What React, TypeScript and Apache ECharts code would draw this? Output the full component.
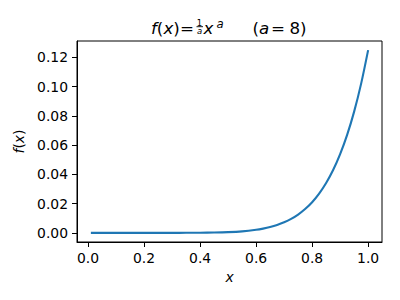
import React, { useEffect, useRef } from "react";
import * as echarts from "echarts";

const xValues = [0.01, 0.05, 0.1, 0.15, 0.2, 0.25, 0.3, 0.35, 0.4, 0.45, 0.5, 0.55, 0.6, 0.625, 0.65, 0.675, 0.7, 0.725, 0.75, 0.775, 0.8, 0.825, 0.85, 0.875, 0.9, 0.925, 0.95, 0.975, 1.0];
const yValues = [0, 0, 0, 0, 0, 0.000002, 0.0000082, 0.0000281, 0.0000819, 0.00021, 0.000488, 0.001047, 0.0021, 0.00291, 0.00398, 0.00539, 0.00721, 0.00954, 0.01251, 0.01627, 0.02097, 0.02683, 0.03406, 0.04295, 0.05381, 0.067, 0.08293, 0.10208, 0.125];
const xTicks = [0, 0.2, 0.4, 0.6, 0.8, 1.0];
const yTicks = [0, 0.02, 0.04, 0.06, 0.08, 0.1, 0.12];

const FONT = "DejaVu Sans";

export default function App() {
  const ref = useRef<HTMLDivElement>(null);
  useEffect(() => {
    if (!ref.current) return;
    const chart = echarts.init(ref.current, undefined, { renderer: "svg" });
    const titleSize = 16.7;
    const smallSize = 11.7;
    const fracSize = 8.5;
    const norm = (text: string, x: number, y: number, size = titleSize, italic = false, lh?: number) => ({
      type: "text",
      x,
      y,
      style: {
        text,
        fontFamily: FONT,
        fontStyle: italic ? "italic" : "normal",
        fontSize: size,
        lineHeight: lh,
        fill: "#000",
        align: "left",
        verticalAlign: "middle",
      },
    });
    chart.setOption({
      animation: false,
      backgroundColor: "#fff",
      grid: { left: 77, top: 41, right: 18, bottom: 58, show: true, borderColor: "#000", borderWidth: 1, backgroundColor: "transparent" },
      xAxis: {
        type: "value",
        min: -0.0395,
        max: 1.0495,
        splitLine: { show: false },
        axisLine: { show: true, onZero: false, lineStyle: { color: "#000", width: 1 } },
        axisTick: { show: true, customValues: xTicks, length: 5, lineStyle: { color: "#000", width: 1 } },
        axisLabel: { customValues: xTicks, margin: 9, color: "#000", fontFamily: FONT, fontSize: 13.9, formatter: (v: number) => v.toFixed(1) },
        name: "x",
        nameLocation: "middle",
        nameGap: 27,
        nameTextStyle: { fontFamily: FONT, fontStyle: "italic", fontSize: 13.9, color: "#000" },
      },
      yAxis: {
        type: "value",
        min: -0.00625,
        max: 0.13125,
        splitLine: { show: false },
        axisLine: { show: true, onZero: false, lineStyle: { color: "#000", width: 1 } },
        axisTick: { show: true, customValues: yTicks, length: 5, lineStyle: { color: "#000", width: 1 } },
        axisLabel: { customValues: yTicks, margin: 9, color: "#000", fontFamily: FONT, fontSize: 13.9, formatter: (v: number) => v.toFixed(2) },
        name: "{i|f}{n|(}{i|x}{n|)}",
        nameLocation: "middle",
        nameGap: 47,
        nameRotate: 90,
        nameTextStyle: {
          color: "#000",
          rich: {
            i: { fontFamily: FONT, fontStyle: "italic", fontSize: 13.9, color: "#000" },
            n: { fontFamily: FONT, fontSize: 13.9, color: "#000" },
          },
        },
      },
      graphic: [
        {
          type: "text",
          x: 151,
          y: 28,
          style: {
            text: "{i|f}{n|(}{i|x}{n|)}",
            verticalAlign: "middle",
            align: "left",
            rich: {
              i: { fontFamily: FONT, fontStyle: "italic", fontSize: titleSize, fill: "#000" },
              n: { fontFamily: FONT, fontSize: titleSize, fill: "#000" },
            },
          },
        },
        norm("=", 180, 28),
        {
          type: "text",
          x: 199.5,
          y: 26.9,
          style: {
            text: "{n|1}\n{i|a}",
            align: "center",
            verticalAlign: "middle",
            rich: {
              n: { fontFamily: FONT, fontSize: fracSize, lineHeight: 8.6, fill: "#000", align: "center" },
              i: { fontFamily: FONT, fontStyle: "italic", fontSize: fracSize, lineHeight: 8.6, fill: "#000", align: "center" },
            },
          },
        },
        { type: "line", shape: { x1: 196.5, y1: 26.7, x2: 203, y2: 26.7 }, style: { stroke: "#000", lineWidth: 0.9 } },
        norm("x", 203.5, 28, titleSize, true),
        norm("a", 216.5, 24, smallSize, true, 9),
        {
          type: "text",
          x: 252.5,
          y: 28,
          style: {
            text: "{n|(}{i|a}",
            verticalAlign: "middle",
            align: "left",
            rich: {
              i: { fontFamily: FONT, fontStyle: "italic", fontSize: titleSize, fill: "#000" },
              n: { fontFamily: FONT, fontSize: titleSize, fill: "#000" },
            },
          },
        },
        norm("=", 271, 28),
        norm("8)", 289.5, 28),
      ],
      series: [
        {
          type: "line",
          data: xValues.map((x, i) => [x, yValues[i]]),
          showSymbol: false,
          smooth: 0.3,
          lineStyle: { color: "#1f77b4", width: 2.1 },
          itemStyle: { color: "#1f77b4" },
        },
      ],
    });
    return () => chart.dispose();
  }, []);
  return <div ref={ref} style={{ position: "fixed", left: 0, top: 0, width: 400, height: 300 }} />;
}
